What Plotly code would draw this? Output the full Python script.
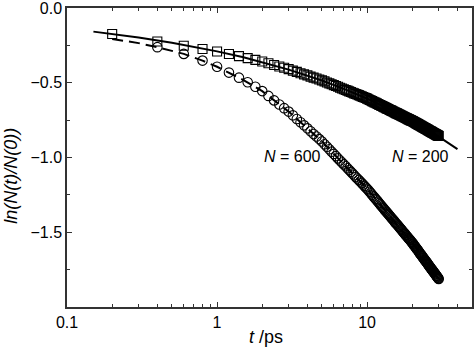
import numpy as np
import plotly.graph_objects as go

# time grid (ps), sampled every 0.2 ps
t200 = [round(0.2 * k, 1) for k in range(1, 151)]
t600 = [round(0.2 * k, 1) for k in range(2, 151)]

# N = 200 (squares)
y200 = [
 -0.174, -0.224, -0.253, -0.274, -0.291, -0.308, -0.322, -0.335, -0.347, -0.358,
 -0.370, -0.381, -0.391, -0.400, -0.409, -0.419, -0.427, -0.436, -0.444, -0.451,
 -0.459, -0.466, -0.472, -0.478, -0.484, -0.491, -0.498, -0.504, -0.510, -0.516,
 -0.522, -0.527, -0.533, -0.538, -0.543, -0.548, -0.553, -0.558, -0.562, -0.567,
 -0.571, -0.575, -0.579, -0.583, -0.587, -0.591, -0.595, -0.599, -0.602, -0.606,
 -0.610, -0.615, -0.619, -0.623, -0.627, -0.631, -0.634, -0.638, -0.642, -0.646,
 -0.649, -0.653, -0.656, -0.660, -0.663, -0.666, -0.670, -0.673, -0.676, -0.679,
 -0.682, -0.685, -0.688, -0.691, -0.694, -0.697, -0.700, -0.703, -0.705, -0.708,
 -0.711, -0.713, -0.716, -0.719, -0.721, -0.724, -0.726, -0.729, -0.731, -0.734,
 -0.736, -0.738, -0.741, -0.743, -0.745, -0.748, -0.750, -0.752, -0.754, -0.756,
 -0.758, -0.761, -0.763, -0.766, -0.768, -0.770, -0.773, -0.775, -0.777, -0.780,
 -0.782, -0.784, -0.786, -0.788, -0.791, -0.793, -0.795, -0.797, -0.799, -0.801,
 -0.803, -0.805, -0.807, -0.809, -0.811, -0.813, -0.815, -0.817, -0.819, -0.821,
 -0.823, -0.825, -0.827, -0.828, -0.830, -0.832, -0.834, -0.836, -0.838, -0.839,
 -0.841, -0.843, -0.845, -0.846, -0.848, -0.850, -0.851, -0.853, -0.855, -0.856,
]

# N = 600 (circles), from 0.4 ps
y600 = [
 -0.262, -0.307, -0.352, -0.393, -0.432, -0.466, -0.497, -0.527, -0.556,
 -0.588, -0.618, -0.645, -0.670, -0.693, -0.718, -0.742, -0.764, -0.785, -0.805,
 -0.824, -0.843, -0.860, -0.877, -0.893, -0.911, -0.928, -0.945, -0.961, -0.976,
 -0.991, -1.006, -1.020, -1.033, -1.046, -1.059, -1.072, -1.084, -1.096, -1.107,
 -1.119, -1.130, -1.140, -1.151, -1.161, -1.171, -1.181, -1.190, -1.200, -1.209,
 -1.219, -1.229, -1.239, -1.249, -1.259, -1.268, -1.277, -1.286, -1.295, -1.304,
 -1.313, -1.321, -1.329, -1.338, -1.346, -1.354, -1.362, -1.369, -1.377, -1.384,
 -1.392, -1.399, -1.406, -1.413, -1.420, -1.427, -1.434, -1.441, -1.447, -1.454,
 -1.460, -1.467, -1.473, -1.479, -1.485, -1.492, -1.498, -1.504, -1.509, -1.515,
 -1.521, -1.527, -1.532, -1.538, -1.544, -1.549, -1.554, -1.560, -1.565, -1.570,
 -1.576, -1.582, -1.588, -1.593, -1.599, -1.605, -1.610, -1.616, -1.621, -1.627,
 -1.632, -1.638, -1.643, -1.648, -1.653, -1.659, -1.664, -1.669, -1.674, -1.679,
 -1.684, -1.689, -1.694, -1.698, -1.703, -1.708, -1.713, -1.717, -1.722, -1.727,
 -1.731, -1.736, -1.740, -1.745, -1.749, -1.753, -1.758, -1.762, -1.766, -1.771,
 -1.775, -1.779, -1.783, -1.788, -1.792, -1.796, -1.800, -1.804, -1.808, -1.812,
]

# fitted curves
fit200_t = [0.15, 0.2, 0.3, 0.5, 0.7, 1, 1.5, 2, 3, 5, 7, 10, 15, 20, 30, 40]
fit200_y = [-0.158, -0.173, -0.197, -0.232, -0.259, -0.290, -0.330, -0.362,
            -0.412, -0.485, -0.541, -0.606, -0.690, -0.756, -0.861, -0.944]
fit600_t = [0.2, 0.3, 0.4, 0.6, 0.8, 1, 1.5, 2, 3, 5, 7, 10, 15, 20, 30]
fit600_y = [-0.207, -0.235, -0.262, -0.307, -0.352, -0.393, -0.482, -0.556,
            -0.693, -0.893, -1.046, -1.209, -1.420, -1.570, -1.812]

x_major = [0.1, 1, 10]
x_major_text = ["0.1", "1", "10"]
x_minor = [0.2, 0.3, 0.4, 0.5, 0.6, 0.7, 0.8, 0.9, 2, 3, 4, 5, 6, 7, 8, 9, 20, 30, 40]
y_major = [0, -0.5, -1.0, -1.5]
y_major_text = ["0.0", "\u22120.5", "\u22121.0", "\u22121.5"]
y_minor = [-0.25, -0.75, -1.25, -1.75]

FONT = "Liberation Sans, Arial, sans-serif"
AX = "#333333"

fig = go.Figure()
fig.add_trace(go.Scatter(x=fit600_t, y=fit600_y, mode="lines",
                         line=dict(color="black", width=2, dash="11px,6px"),
                         showlegend=False, hoverinfo="skip"))
fig.add_trace(go.Scatter(x=fit200_t, y=fit200_y, mode="lines",
                         line=dict(color="black", width=2),
                         showlegend=False, hoverinfo="skip"))
fig.add_trace(go.Scatter(x=t600, y=y600, mode="markers",
                         marker=dict(symbol="circle-open", size=9.5, color="black",
                                     line=dict(width=1.1, color="black")),
                         showlegend=False))
fig.add_trace(go.Scatter(x=t200, y=y200, mode="markers",
                         marker=dict(symbol="square-open", size=9, color="black",
                                     line=dict(width=1.1, color="black")),
                         showlegend=False))

fig.add_annotation(x=np.log10(3.2), y=-0.993, xref="x", yref="y",
                   xanchor="center", yanchor="middle",
                   text="<i>N</i> = 600", showarrow=False,
                   font=dict(family=FONT, size=16, color="black"))
fig.add_annotation(x=np.log10(22.8), y=-0.993, xref="x", yref="y",
                   xanchor="center", yanchor="middle",
                   text="<i>N</i> = 200", showarrow=False,
                   font=dict(family=FONT, size=16, color="black"))
fig.add_annotation(x=(11 - 67) / 407, y=0.44, xref="paper", yref="paper",
                   xanchor="center", yanchor="middle",
                   text="<i>ln(N(t)/N(0))</i>", showarrow=False, textangle=-90,
                   font=dict(family=FONT, size=18, color="black"))
fig.add_annotation(x=0.491, y=-0.10, xref="paper", yref="paper",
                   xanchor="center", yanchor="middle",
                   text="<i>t</i> /ps", showarrow=False,
                   font=dict(family=FONT, size=18, color="black"))

fig.update_xaxes(type="log", range=[-1, np.log10(50)],
                 tickmode="array", tickvals=x_major, ticktext=x_major_text,
                 ticks="inside", ticklen=5, tickwidth=1.3, tickcolor=AX,
                 minor=dict(tickmode="array", tickvals=x_minor, ticks="inside",
                            ticklen=3, tickwidth=1.2, tickcolor=AX, showgrid=False),
                 showline=True, linecolor=AX, linewidth=1.5, mirror="ticks",
                 showgrid=False, zeroline=False, ticklabeloverflow="allow",
                 tickfont=dict(family=FONT, size=16, color="black"))
fig.update_yaxes(range=[-2, 0],
                 tickmode="array", tickvals=y_major, ticktext=y_major_text,
                 ticks="inside", ticklen=5, tickwidth=1.3, tickcolor=AX,
                 minor=dict(tickmode="array", tickvals=y_minor, ticks="inside",
                            ticklen=3, tickwidth=1.2, tickcolor=AX, showgrid=False),
                 showline=True, linecolor=AX, linewidth=1.5, mirror="ticks",
                 showgrid=False, zeroline=False, ticklabeloverflow="allow",
                 tickfont=dict(family=FONT, size=16, color="black"))

fig.update_layout(width=474, height=351,
                  margin=dict(l=67, r=0, t=7, b=44),
                  plot_bgcolor="white", paper_bgcolor="white",
                  font=dict(family=FONT))

fig.write_html("out.html")
